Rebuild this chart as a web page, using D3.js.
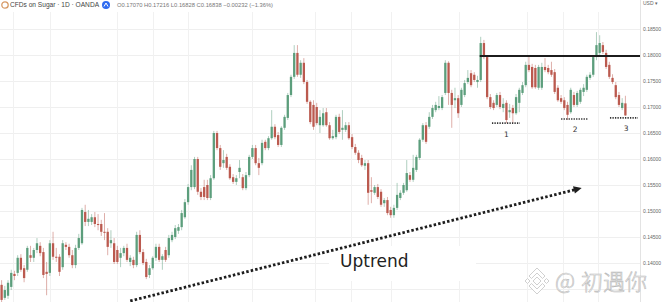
<!DOCTYPE html>
<html lang="en">
<head>
<meta charset="utf-8">
<title>CFDs on Sugar - Uptrend</title>
<script src="https://d3js.org/d3.v7.min.js"></script>
<style>
body { margin: 0; background: #fff; }
svg { display: block; font-family: "Liberation Sans", Arial, sans-serif; }
</style>
</head>
<body>
<script>

// daily candles (USD)
var open = [
  0.1358,0.1333,0.1337,0.1354,0.1379,0.1381,0.1410,0.1390,0.1387,0.1415,
  0.1410,0.1425,0.1433,0.1421,0.1383,0.1381,0.1438,0.1412,0.1412,0.1392,
  0.1435,0.1431,0.1415,0.1396,0.1429,0.1438,0.1498,0.1479,0.1479,0.1488,
  0.1475,0.1475,0.1460,0.1460,0.1438,0.1438,0.1425,0.1410,0.1419,0.1429,
  0.1402,0.1406,0.1396,0.1454,0.1421,0.1402,0.1377,0.1390,0.1410,0.1431,
  0.1406,0.1425,0.1415,0.1444,0.1450,0.1462,0.1469,0.1488,0.1517,0.1546,
  0.1546,0.1600,0.1537,0.1546,0.1550,0.1525,0.1563,0.1650,0.1621,0.1592,
  0.1604,0.1585,0.1565,0.1556,0.1575,0.1565,0.1544,0.1569,0.1604,0.1621,
  0.1592,0.1592,0.1633,0.1621,0.1640,0.1662,0.1646,0.1627,0.1660,0.1679,
  0.1723,0.1758,0.1804,0.1762,0.1785,0.1748,0.1710,0.1704,0.1700,0.1665,
  0.1665,0.1690,0.1665,0.1640,0.1642,0.1681,0.1656,0.1656,0.1665,0.1642,
  0.1623,0.1612,0.1602,0.1587,0.1592,0.1540,0.1535,0.1546,0.1537,0.1515,
  0.1521,0.1502,0.1492,0.1506,0.1525,0.1535,0.1540,0.1569,0.1560,0.1579,
  0.1602,0.1637,0.1665,0.1662,0.1681,0.1694,0.1698,0.1698,0.1727,0.1785,
  0.1727,0.1713,0.1717,0.1704,0.1723,0.1748,0.1765,0.1762,0.1748,0.1752,
  0.1823,0.1796,0.1719,0.1708,0.1704,0.1723,0.1698,0.1708,0.1690,0.1698,
  0.1688,0.1708,0.1727,0.1742,0.1781,0.1777,0.1775,0.1737,0.1737,0.1777,
  0.1775,0.1771,0.1767,0.1737,0.1717,0.1713,0.1704,0.1690,0.1723,0.1704,
  0.1710,0.1729,0.1733,0.1756,0.1762,0.1796,0.1804,0.1819,0.1804,0.1781,
  0.1756,0.1742,0.1723,0.1698,0.17070
];
var high = [
  0.1367,0.1356,0.1367,0.1387,0.1385,0.1415,0.1417,0.1396,0.1433,0.1433,
  0.1429,0.1448,0.1440,0.1429,0.1402,0.1444,0.1460,0.1429,0.1417,0.1444,
  0.1440,0.1437,0.1425,0.1435,0.1456,0.1506,0.1512,0.1502,0.1494,0.1498,
  0.1494,0.1483,0.1496,0.1467,0.1463,0.1448,0.1433,0.1429,0.1433,0.1437,
  0.1415,0.1412,0.1460,0.1463,0.1427,0.1408,0.1396,0.1413,0.1437,0.1437,
  0.1417,0.1431,0.1454,0.1460,0.1473,0.1475,0.1502,0.1523,0.1552,0.1588,
  0.1604,0.1604,0.1544,0.1560,0.1560,0.1569,0.1654,0.1654,0.1627,0.1617,
  0.1610,0.1590,0.1571,0.1569,0.1598,0.1571,0.1575,0.1608,0.1627,0.1627,
  0.1602,0.1637,0.1637,0.1644,0.1694,0.1667,0.1652,0.1663,0.1685,0.1727,
  0.1762,0.1819,0.1819,0.1790,0.1794,0.1752,0.1713,0.1713,0.1708,0.1694,
  0.1698,0.1698,0.1671,0.1656,0.1685,0.1687,0.1694,0.1671,0.1671,0.1648,
  0.1629,0.1617,0.1608,0.1598,0.1598,0.1565,0.1550,0.1552,0.1542,0.1525,
  0.1527,0.1508,0.1512,0.1554,0.1540,0.1554,0.1598,0.1575,0.1608,0.1608,
  0.1640,0.1669,0.1671,0.1690,0.1704,0.1710,0.1721,0.1723,0.1790,0.1788,
  0.1733,0.1737,0.1723,0.1737,0.1752,0.1771,0.1771,0.1767,0.1760,0.1835,
  0.1829,0.1800,0.1725,0.1713,0.1727,0.1729,0.1717,0.1713,0.1706,0.1704,
  0.1725,0.1737,0.1748,0.1787,0.1798,0.1783,0.1781,0.1781,0.1785,0.1794,
  0.1781,0.1787,0.1773,0.1742,0.1723,0.1719,0.1710,0.1737,0.1729,0.1731,
  0.1737,0.1744,0.1762,0.1767,0.1800,0.1844,0.1838,0.1825,0.1810,0.1787,
  0.1763,0.1748,0.1729,0.1717,0.17216
];
var low = [
  0.1325,0.1329,0.1331,0.1348,0.1367,0.1375,0.1383,0.1363,0.1383,0.1402,
  0.1402,0.1419,0.1413,0.1371,0.1338,0.1375,0.1406,0.1402,0.1375,0.1387,
  0.1425,0.1410,0.1390,0.1390,0.1425,0.1435,0.1471,0.1471,0.1473,0.1469,
  0.1463,0.1452,0.1444,0.1415,0.1429,0.1398,0.1398,0.1392,0.1413,0.1402,
  0.1394,0.1390,0.1392,0.1417,0.1396,0.1369,0.1371,0.1387,0.1404,0.1402,
  0.1387,0.1402,0.1410,0.1440,0.1446,0.1456,0.1463,0.1485,0.1512,0.1540,
  0.1542,0.1531,0.1521,0.1521,0.1521,0.1521,0.1560,0.1617,0.1579,0.1583,
  0.1579,0.1560,0.1552,0.1550,0.1563,0.1540,0.1540,0.1565,0.1600,0.1588,
  0.1569,0.1588,0.1617,0.1617,0.1637,0.1638,0.1623,0.1623,0.1656,0.1675,
  0.1719,0.1754,0.1758,0.1756,0.1744,0.1706,0.1667,0.1656,0.1665,0.1650,
  0.1662,0.1662,0.1637,0.1637,0.1638,0.1648,0.1637,0.1652,0.1637,0.1619,
  0.1608,0.1592,0.1585,0.1579,0.1512,0.1515,0.1531,0.1523,0.1508,0.1508,
  0.1492,0.1487,0.1487,0.1502,0.1521,0.1531,0.1537,0.1556,0.1556,0.1575,
  0.1598,0.1633,0.1629,0.1658,0.1677,0.1690,0.1694,0.1694,0.1723,0.1704,
  0.1660,0.1698,0.1679,0.1700,0.1719,0.1744,0.1738,0.1748,0.1737,0.1748,
  0.1792,0.1715,0.1696,0.1694,0.1700,0.1696,0.1690,0.1669,0.1679,0.1669,
  0.1685,0.1690,0.1723,0.1738,0.1767,0.1735,0.1735,0.1733,0.1733,0.1767,
  0.1763,0.1758,0.1725,0.1710,0.1706,0.1694,0.1675,0.1687,0.1700,0.1700,
  0.1706,0.1721,0.1729,0.1752,0.1758,0.1790,0.1800,0.1802,0.1773,0.1754,
  0.1744,0.1715,0.1700,0.1694,0.16828
];
var close = [
  0.1329,0.1348,0.1362,0.1381,0.1375,0.1410,0.1387,0.1371,0.1429,0.1410,
  0.1425,0.1438,0.1419,0.1377,0.1379,0.1438,0.1412,0.1410,0.1383,0.1438,
  0.1431,0.1415,0.1396,0.1429,0.1448,0.1502,0.1479,0.1485,0.1488,0.1475,
  0.1473,0.1460,0.1458,0.1431,0.1444,0.1402,0.1402,0.1419,0.1429,0.1406,
  0.1410,0.1396,0.1454,0.1421,0.1400,0.1373,0.1390,0.1410,0.1431,0.1406,
  0.1413,0.1406,0.1448,0.1454,0.1467,0.1469,0.1496,0.1517,0.1546,0.1579,
  0.1600,0.1537,0.1527,0.1527,0.1525,0.1563,0.1650,0.1621,0.1585,0.1598,
  0.1583,0.1563,0.1556,0.1563,0.1583,0.1544,0.1569,0.1604,0.1621,0.1592,
  0.1583,0.1631,0.1621,0.1640,0.1662,0.1642,0.1627,0.1660,0.1681,0.1723,
  0.1758,0.1804,0.1762,0.1785,0.1748,0.1710,0.1671,0.1662,0.1669,0.1681,
  0.1688,0.1665,0.1640,0.1644,0.1681,0.1652,0.1660,0.1665,0.1640,0.1623,
  0.1612,0.1598,0.1588,0.1592,0.1535,0.1537,0.1546,0.1527,0.1512,0.1521,
  0.1496,0.1492,0.1506,0.1531,0.1535,0.1550,0.1573,0.1560,0.1583,0.1604,
  0.1637,0.1665,0.1633,0.1681,0.1698,0.1704,0.1702,0.1719,0.1785,0.1727,
  0.1704,0.1717,0.1688,0.1733,0.1746,0.1756,0.1742,0.1752,0.1752,0.1823,
  0.1796,0.1719,0.1700,0.1698,0.1723,0.1700,0.1706,0.1675,0.1694,0.1688,
  0.1719,0.1733,0.1742,0.1781,0.1771,0.1738,0.1738,0.1777,0.1777,0.1771,
  0.1767,0.1762,0.1729,0.1713,0.1710,0.1698,0.1685,0.1733,0.1704,0.1727,
  0.1733,0.1737,0.1758,0.1762,0.1796,0.1819,0.1823,0.1806,0.1777,0.1758,
  0.1748,0.1719,0.1704,0.1708,0.16838
];

var priceTicks = [0.185, 0.18, 0.175, 0.17, 0.165, 0.16, 0.155, 0.15, 0.145, 0.14];
var gridTicks = [0.185, 0.18, 0.175, 0.17, 0.165, 0.16, 0.155, 0.15, 0.145, 0.14, 0.135];
var timeGrid = [3.5, 15, 36, 47, 58, 78, 97.5, 108.7, 121, 142.3, 163.4, 174.6, 185.5];

var resistance = 0.1798, resistanceFrom = 149;
var supportNames = ["1", "2", "3"];
var supportPrices = [0.1669, 0.1677, 0.1679];
var supportFrom = [152.5, 174, 189.2];
var supportTo = [161.2, 182.4, 197.9];
var supportLabelAt = [157, 178.4, 194.2];
var trendFrom = [40, 0.1327], trendTo = [178.3, 0.1541];

var title = "CFDs on Sugar \u00b7 1D \u00b7 OANDA";
var ohlcText = "O0.17070 H0.17216 L0.16828 C0.16838 \u22120.00232 (\u22121.36%)";

var W = 662, H = 302, axisX = 640;
var n = close.length;

var svg = d3.select("body").append("svg")
    .attr("width", W)
    .attr("height", H);

svg.append("rect").attr("width", W).attr("height", H).attr("fill", "#fff");

var x = d3.scaleLinear().domain([0, n - 1]).range([1.6, 625.4]);
var y = d3.scaleLinear().domain([0.14, 0.185]).range([263, 29]);

// grid
svg.append("g").selectAll("line").data(gridTicks).enter().append("line")
    .attr("x1", 0).attr("x2", axisX)
    .attr("y1", function(d) { return Math.round(y(d)) + 0.5; })
    .attr("y2", function(d) { return Math.round(y(d)) + 0.5; })
    .attr("stroke", "#efefef");
svg.append("g").selectAll("line").data(timeGrid).enter().append("line")
    .attr("x1", function(d) { return Math.round(x(d)) + 0.5; })
    .attr("x2", function(d) { return Math.round(x(d)) + 0.5; })
    .attr("y1", 12).attr("y2", H)
    .attr("stroke", "#f1f1f1");

// candles
var up = "#5c9e7c", down = "#bb5a4f";
var cg = svg.append("g");
var idx = d3.range(n);
cg.selectAll("line").data(idx).enter().append("line")
    .attr("x1", function(i) { return x(i); })
    .attr("x2", function(i) { return x(i); })
    .attr("y1", function(i) { return y(high[i]); })
    .attr("y2", function(i) { return y(low[i]); })
    .attr("stroke", function(i) { return close[i] >= open[i] ? up : down; })
    .attr("stroke-opacity", 0.55)
    .attr("stroke-width", 0.9);
cg.selectAll("rect").data(idx).enter().append("rect")
    .attr("x", function(i) { return x(i) - 1.15; })
    .attr("width", 2.3)
    .attr("y", function(i) { return y(Math.max(open[i], close[i])); })
    .attr("height", function(i) { return Math.max(1, Math.abs(y(open[i]) - y(close[i]))); })
    .attr("fill", function(i) { return close[i] >= open[i] ? up : down; });

// resistance line
svg.append("line")
    .attr("x1", x(resistanceFrom) - 1).attr("x2", axisX)
    .attr("y1", y(resistance)).attr("y2", y(resistance))
    .attr("stroke", "#1c1c1c").attr("stroke-width", 2);

// support levels
supportPrices.forEach(function(p, k) {
  svg.append("line")
      .attr("x1", x(supportFrom[k])).attr("x2", x(supportTo[k]))
      .attr("y1", y(p)).attr("y2", y(p))
      .attr("stroke", "#333").attr("stroke-width", 1.6)
      .attr("stroke-dasharray", "1.3,1.2");
  svg.append("text")
      .attr("x", x(supportLabelAt[k]))
      .attr("y", y(p) + (k == 0 ? 14 : 13))
      .attr("text-anchor", "middle")
      .style("font-size", "7.5px")
      .style("font-family", "'DejaVu Sans', sans-serif")
      .attr("fill", "#333")
      .text(supportNames[k]);
});

// white patch behind the caption
svg.append("rect").attr("x", 329).attr("y", 246).attr("width", 147).attr("height", 35).attr("fill", "#fff");

// uptrend arrow
var tx1 = x(trendFrom[0]), ty1 = y(trendFrom[1]);
var tx2 = x(trendTo[0]), ty2 = y(trendTo[1]);
svg.append("line")
    .attr("x1", tx1).attr("y1", ty1).attr("x2", tx2).attr("y2", ty2)
    .attr("stroke", "#1e1e1e").attr("stroke-width", 2.8)
    .attr("stroke-dasharray", "2.5,2.1");
var ang = Math.atan2(ty2 - ty1, tx2 - tx1) * 180 / Math.PI;
svg.append("path")
    .attr("d", "M7,0 L-1,-3.8 L-1,3.8 Z")
    .attr("transform", "translate(" + tx2 + "," + ty2 + ") rotate(" + ang + ")")
    .attr("fill", "#1e1e1e");

svg.append("text")
    .attr("x", 340).attr("y", 267)
    .style("font-family", "'DejaVu Sans', sans-serif")
    .style("font-size", "17px")
    .attr("fill", "#222")
    .text("Uptrend");

// price axis
svg.append("line")
    .attr("x1", axisX + 0.5).attr("x2", axisX + 0.5)
    .attr("y1", 0).attr("y2", H)
    .attr("stroke", "#e3e3e3");
var ax = svg.append("g")
    .attr("transform", "translate(" + axisX + ",0)")
    .call(d3.axisRight(y).tickValues(priceTicks).tickSize(0).tickPadding(3)
          .tickFormat(d3.format(".5f")));
ax.select(".domain").remove();
ax.selectAll("text").style("font-size", "5px").attr("fill", "#666");
svg.append("text")
    .attr("x", 643).attr("y", 5)
    .style("font-size", "5px").attr("fill", "#666")
    .text("USD \u25be");

// header
svg.append("circle").attr("cx", 5).attr("cy", 5).attr("r", 3.2)
    .attr("fill", "#fff").attr("stroke", "#d79a66").attr("stroke-width", 1.3);
svg.append("text")
    .attr("x", 10).attr("y", 7.3)
    .style("font-size", "6.6px").attr("fill", "#444")
    .text(title);
svg.append("circle").attr("cx", 106).attr("cy", 5).attr("r", 4)
    .attr("fill", "#2f6bf0");
svg.append("path")
    .attr("d", "M104,6.5 L106,3 L108,6.5")
    .attr("fill", "none").attr("stroke", "#fff").attr("stroke-width", 1);
svg.append("text")
    .attr("x", 117).attr("y", 7.2)
    .style("font-size", "5.8px").attr("fill", "#777")
    .text(ohlcText);

// watermark
var wm = svg.append("g").attr("fill", "#fff").attr("stroke", "#c4c4c4").attr("stroke-width", 0.8);
wm.append("path").attr("d", "M537,277 L541,281 L537,285 L533,281 Z");
wm.append("path").attr("d", "M527.5,278.5 L530,281 L527.5,283.5 L525,281 Z");
wm.append("path").attr("d", "M546.5,278.5 L549,281 L546.5,283.5 L544,281 Z");
wm.append("path").attr("d", "M537,268 L545,276 L542.5,278.5 L537,273 L531.5,278.5 L529,276 Z");
wm.append("path").attr("d", "M537,294 L545,286 L542.5,283.5 L537,289 L531.5,283.5 L529,286 Z");
svg.append("text")
    .attr("x", 555).attr("y", 289)
    .style("font-family", "'Noto Sans CJK SC', sans-serif")
    .style("font-size", "22px").style("font-weight", "300")
    .attr("fill", "#fff").attr("stroke", "#bababa").attr("stroke-width", 0.6)
    .text("@");
svg.append("text")
    .attr("x", 581).attr("y", 290)
    .style("font-family", "'Noto Sans CJK SC', sans-serif")
    .style("font-size", "22px").style("font-weight", "300")
    .attr("fill", "#fff").attr("stroke", "#bababa").attr("stroke-width", 0.6)
    .text("初遇你");

</script>
</body>
</html>
